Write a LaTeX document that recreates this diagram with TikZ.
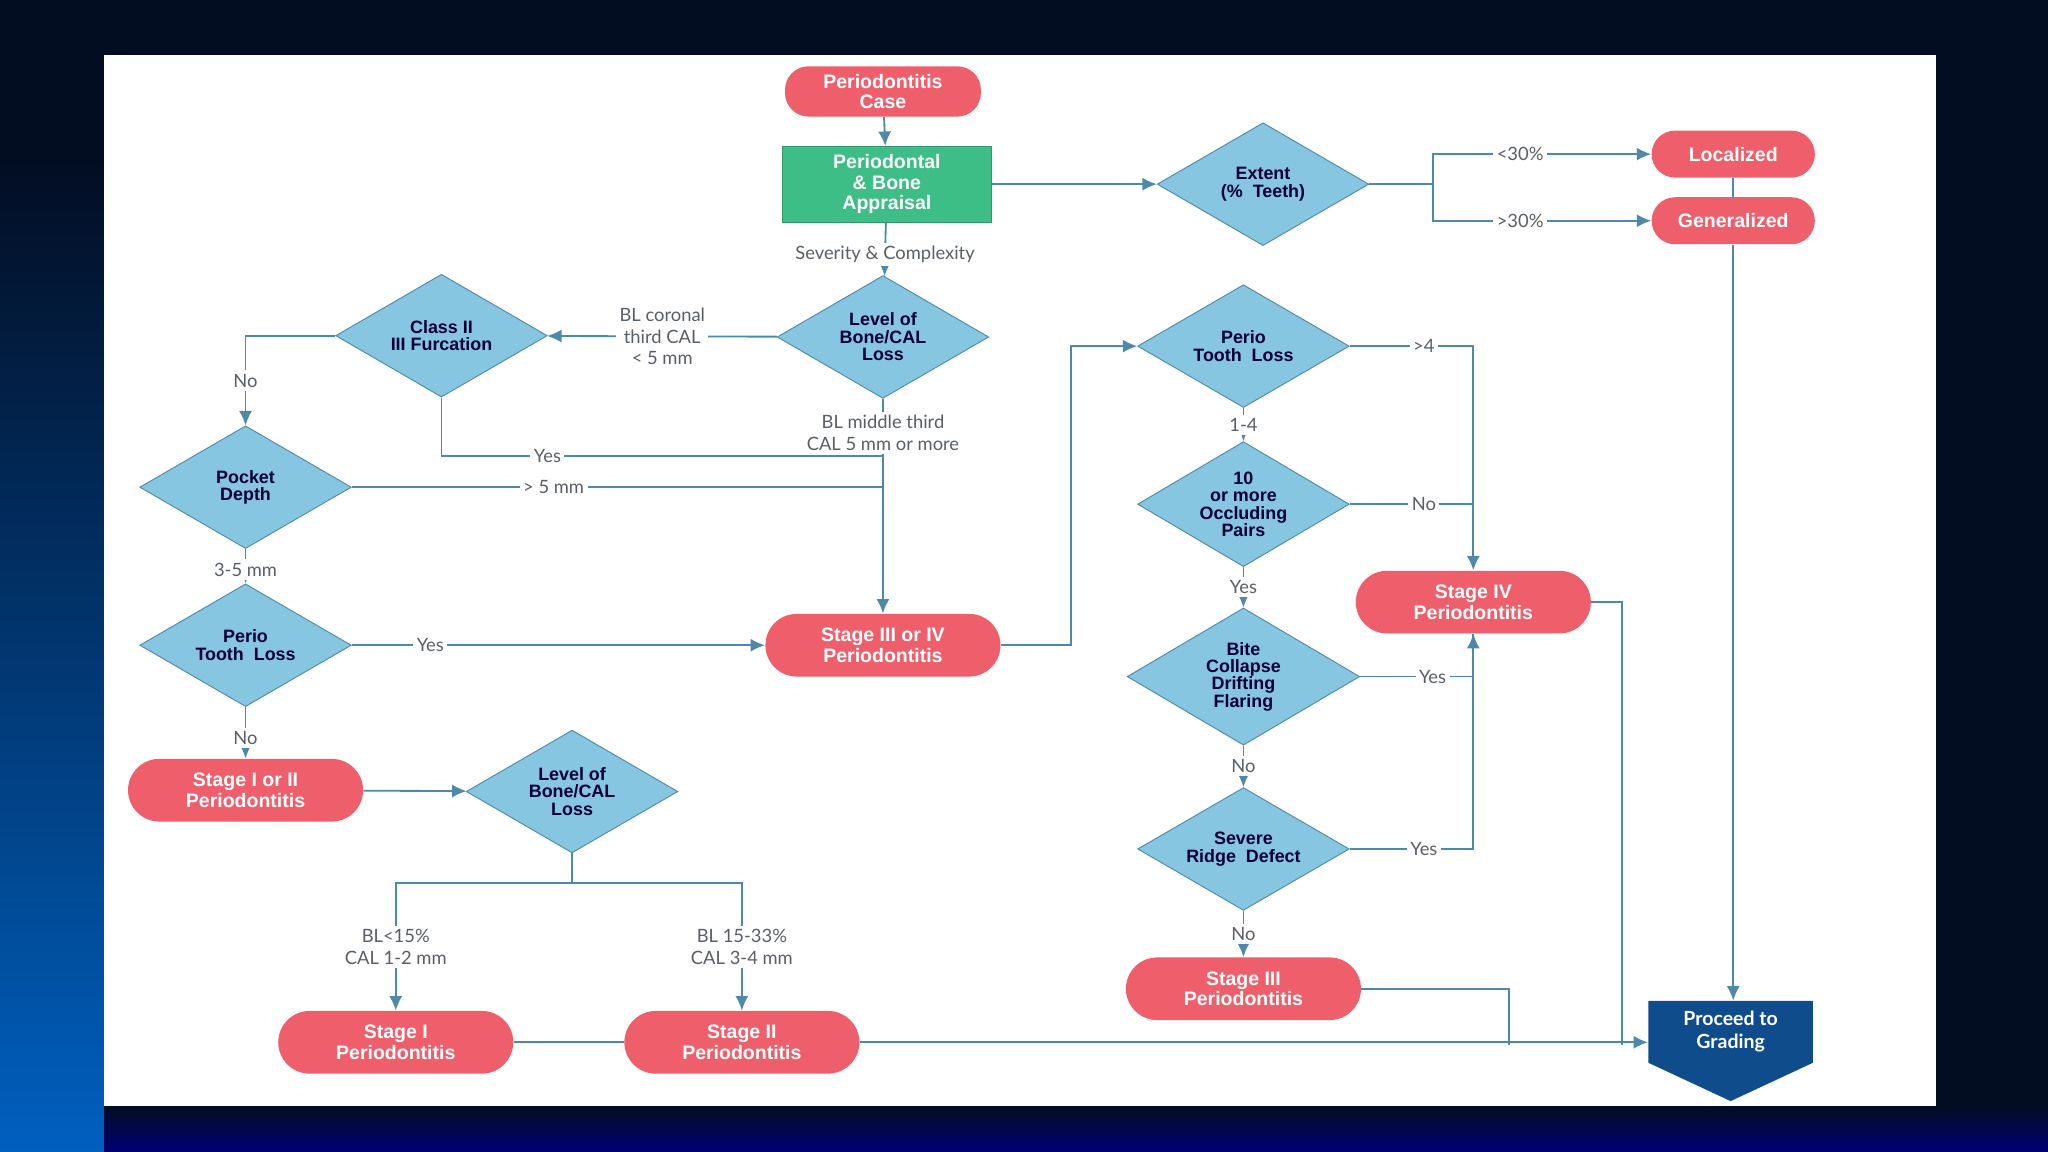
\documentclass[tikz,border=0pt]{standalone}
\usepackage{fontspec}
\setmainfont{Liberation Sans}
\newfontfamily\lato{Lato}
\usetikzlibrary{shapes.geometric, shapes.symbols, arrows.meta, positioning}
\definecolor{pinkred}{HTML}{EF5F6B}
\definecolor{apprgreen}{HTML}{3DBE86}
\definecolor{diamblue}{HTML}{86C6E0}
\definecolor{linkblue}{HTML}{4F89AA}
\definecolor{labgrey}{HTML}{5A5F66}
\definecolor{navy}{HTML}{0F4C8C}
\definecolor{bgdark}{HTML}{020D22}

\begin{document}
\begin{tikzpicture}[
        x=0.02cm, y=-0.02cm, >=Latex,
        every node/.style={font=\fontsize{8.5}{9}\selectfont\bfseries, align=center},
        decision/.style={diamond, draw=linkblue, fill=diamblue, text=black!80!blue, font=\fontsize{7.8}{7.6}\selectfont\bfseries, minimum width=3.24cm, minimum height=1.88cm, inner sep=-3pt},
        stage/.style={rectangle, rounded corners=0.48cm, fill=pinkred, text=white, minimum width=3.6cm, minimum height=0.96cm},
        small stage/.style={stage, rounded corners=0.36cm, minimum width=2.5cm, minimum height=0.72cm},
        lab/.style={font=\lato\fontsize{8}{9.5}\selectfont, text=labgrey, fill=white, inner sep=1.5pt},
        line/.style={draw=linkblue, thick},
        arrow/.style={line, -{Latex[length=2.2mm,width=2mm]}},
    ]

    % Background and panel
    \useasboundingbox (0,0) rectangle (1568,882);
    \fill[bgdark] (0,0) rectangle (1568,882);
    \shade[top color=bgdark, bottom color=blue!50!cyan!75!black] (0,120) rectangle (80,882);
    \shade[top color=bgdark, bottom color=blue!45!black] (80,847) rectangle (1568,882);
    \fill[white] (80,42) rectangle (1482,847);

    % Nodes
    \node [small stage, minimum width=3cm] (case) at (676,70) {Periodontitis\\Case};
    \node [rectangle, fill=apprgreen, draw=apprgreen!80!black, text=white, minimum width=3.2cm, minimum height=1.16cm] (appr) at (679,141) {Periodontal\\\& Bone\\Appraisal};
    \node [decision] (extent) at (967,141) {Extent\\(\%\ \ Teeth)};
    \node [small stage] (local) at (1327,118) {Localized};
    \node [small stage] (general) at (1327,169) {Generalized};

    \node [decision] (level) at (676,258) {Level of\\Bone/CAL\\Loss};
    \node [decision] (furc) at (338,257) {Class II\\III Furcation};
    \node [decision] (pocket) at (188,373) {Pocket\\Depth};
    \node [decision] (loss) at (188,494) {Perio\\Tooth\ \ Loss};
    \node [stage] (stIIIIV) at (676,494) {Stage III or IV\\Periodontitis};
    \node [stage] (stIII) at (188,605) {Stage I or II\\Periodontitis};
    \node [decision] (levelb) at (438,606) {Level of\\Bone/CAL\\Loss};
    \node [stage] (stI) at (303,798) {Stage I\\Periodontitis};
    \node [stage] (stII) at (568,798) {Stage II\\Periodontitis};

    \node [decision] (lossb) at (952,265) {Perio\\Tooth\ \ Loss};
    \node [decision] (pairs) at (952,386) {10\\or more\\Occluding\\Pairs};
    \node [stage] (stIV) at (1128,461) {Stage IV\\Periodontitis};
    \node [decision, minimum width=3.56cm, minimum height=2.1cm] (bite) at (952,518) {Bite\\Collapse\\Drifting\\Flaring};
    \node [decision] (ridge) at (952,650) {Severe\\Ridge\ \ Defect};
    \node [stage] (stIIIb) at (952,757) {Stage III\\Periodontitis};
    \node [signal, signal to=south, signal pointer angle=130, fill=navy, text=white, font=\lato\fontsize{8.5}{10}\selectfont\bfseries, minimum width=2.52cm, minimum height=1.3cm, inner sep=1pt] (grade) at (1325,790) {Proceed to\\Grading};

    % Junctions
    \coordinate (jext) at (1097,141);
    \coordinate (jmid) at (676,349);
    \coordinate (jlow) at (438,676);
    \coordinate (jup) at (820,265);
    \coordinate (jiv) at (1128,265);
    \coordinate (jend) at (1242,800);
    \coordinate (jiii) at (1155,800);

    % Arrows
    \draw [arrow] (case) -- (appr);
    \draw [arrow] (appr) -- (extent);
    \draw [line] (extent) -- (jext);
    \draw [arrow] (jext) |- node [lab, pos=0.7] {<30\%} (local);
    \draw [arrow] (jext) |- node [lab, pos=0.7] {>30\%} (general);
    \draw [line] (local) -- (general);
    \draw [arrow] (general) -- (general |- grade.north);

    \draw [arrow] (appr) -- node [lab, pos=0.6] {Severity \& Complexity} (level);
    \draw [arrow] (level) -- node [lab] {BL coronal\\third CAL\\< 5 mm} (furc);
    \draw [arrow] (level) -- node [lab, pos=0.16] {BL middle third\\CAL 5 mm or more} (stIIIIV);
    \draw [line] (furc) |- node [lab, pos=0.62] {Yes} (jmid);
    \draw [arrow] (furc) -| node [lab, pos=0.75] {No} (pocket);
    \draw [line] (pocket) -- node [lab, pos=0.38] {> 5 mm} (pocket -| jmid);
    \draw [arrow] (pocket) -- node [lab, pos=0.6] {3-5 mm} (loss);
    \draw [arrow] (loss) -- node [lab, pos=0.19] {Yes} (stIIIIV);
    \draw [arrow] (loss) -- node [lab, pos=0.6] {No} (stIII);
    \draw [arrow] (stIIIIV) -| (jup) -- (lossb);

    \draw [arrow] (stIII) -- (levelb);
    \draw [line] (levelb) -- (jlow);
    \draw [arrow] (jlow) -| node [lab, pos=0.75] {BL<15\%\\CAL 1-2 mm} (stI);
    \draw [arrow] (jlow) -| node [lab, pos=0.75] {BL 15-33\%\\CAL 3-4 mm} (stII);
    \draw [line] (stI) -- (stII);
    \draw [arrow] (stII) -- (grade.west |- stII);

    \draw [arrow] (lossb) -- node [lab, pos=0.6] {>4} (jiv) -- (stIV);
    \draw [line] (pairs) -- node [lab, pos=0.6] {No} (pairs -| jiv);
    \draw [arrow] (lossb) -- node [lab, pos=0.5] {1-4} (pairs);
    \draw [arrow] (pairs) -- node [lab, pos=0.5] {Yes} (bite);
    \draw [arrow] (bite) -| node [lab, pos=0.32] {Yes} (stIV);
    \draw [line] (ridge) -| node [lab, pos=0.3] {Yes} (stIV);
    \draw [arrow] (bite) -- node [lab, pos=0.5] {No} (ridge);
    \draw [arrow] (ridge) -- node [lab, pos=0.5] {No} (stIIIb);
    \draw [line] (stIV) -| (jend);
    \draw [line] (stIIIb) -| (jiii);

\end{tikzpicture}
\end{document}
